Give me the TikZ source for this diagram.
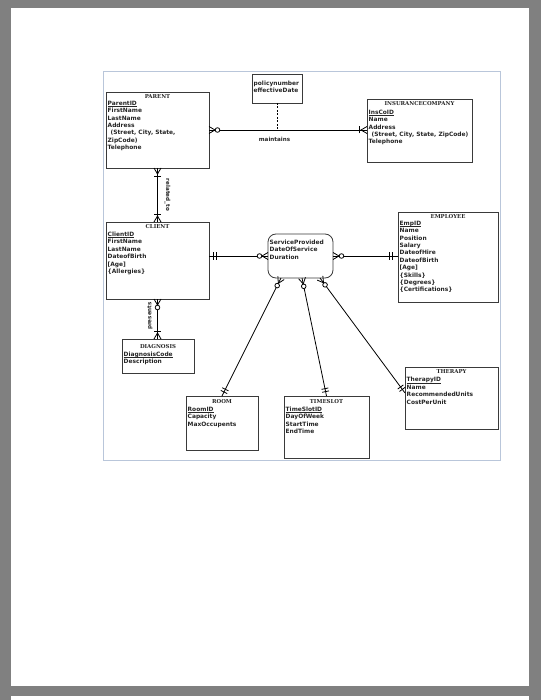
\documentclass[tikz,border=0pt]{standalone}
\usepackage{fontspec}
\newfontfamily\attrfont{DejaVu Sans}
\newfontfamily\titlefont{DejaVu Serif}
\usetikzlibrary{calc}
\definecolor{pagegray}{HTML}{808080}
\definecolor{framec}{HTML}{B9C6DA}
\definecolor{boxc}{HTML}{3A3A3A}
\newcommand{\keyattr}[1]{\setbox0\hbox{#1}\rlap{\vrule height -0.6pt depth 1.1pt width \wd0}#1}
\newcommand{\crowat}[2]{%
  \path ($(#2)!6pt!(#1)$) coordinate (cq);
  \draw[rel] ($(#2)!3.5pt!90:(#1)$) -- (cq) -- ($(#2)!3.5pt!-90:(#1)$);}
\newcommand{\erbar}[3]{%
  \path ($(#2)!#3!(#1)$) coordinate (bq);
  \draw[rel] ($(bq)!3.5pt!90:(#1)$) -- ($(bq)!3.5pt!-90:(#1)$);}
\newcommand{\ercirc}[3]{%
  \path ($(#2)!#3!(#1)$) coordinate (oq);
  \draw[rel,fill=white] (oq) circle[radius=2.3pt];}
\newcommand{\zeromany}[2]{\crowat{#1}{#2}\ercirc{#1}{#2}{8.5pt}}
\newcommand{\onemany}[2]{\crowat{#1}{#2}\erbar{#1}{#2}{8pt}}
\newcommand{\oneone}[2]{\erbar{#1}{#2}{4.5pt}\erbar{#1}{#2}{7.5pt}}
\begin{document}
\begin{tikzpicture}[x=1pt,y=-1pt,
  box/.style={draw=boxc, line width=0.8pt, inner sep=0pt, outer sep=0pt, anchor=north west},
  sz/.style 2 args={minimum width=#1pt, minimum height=#2pt},
  attr/.style={font=\attrfont\bfseries\fontsize{5.9}{7.4}\selectfont, align=left, anchor=north west, inner sep=0pt, text=black!85},
  ttl/.style={font=\titlefont\bfseries\fontsize{5.4}{7}\selectfont, inner sep=0pt, text=black!85},
  lbl/.style={font=\attrfont\bfseries\fontsize{5.6}{7}\selectfont, inner sep=0pt, text=black!85},
  rel/.style={line width=0.8pt, black}]
\useasboundingbox (0,0) rectangle (541,700);
\fill[pagegray] (0,0) rectangle (541,700);
\fill[white] (11.4,8) rectangle (529,686);
\fill[white] (11.4,696) rectangle (529,700);
\draw[framec, line width=0.8pt] (103.5,71) rectangle (500,460);

% entities
\node[box, sz={103}{76}] (PARENT) at (106,92) {};
\node[ttl] (PARENTt) at (157.5,97) {PARENT};
\node[attr] (PARENTa) at (107.5,100.8) {\keyattr{ParentID}\\FirstName\\LastName\\Address\\\hspace{3pt}(Street, City, State,\\ZipCode)\\Telephone};

\node[box, sz={50}{29}] (POL) at (252,74) {};
\node[attr] (POLa) at (253.5,80.8) {policynumber\\effectiveDate};

\node[box, sz={105}{63}] (INS) at (367,99) {};
\node[ttl] (INSt) at (419.5,104) {INSURANCECOMPANY};
\node[attr] (INSa) at (368.5,109.8) {\keyattr{InsCoID}\\Name\\Address\\\hspace{3pt}(Street, City, State, ZipCode)\\Telephone};

\node[box, sz={103}{77}] (CLIENT) at (106,222) {};
\node[ttl] (CLIENTt) at (157.5,227) {CLIENT};
\node[attr] (CLIENTa) at (107.5,231.8) {\keyattr{ClientID}\\FirstName\\LastName\\DateofBirth\\{[Age]}\\\{Allergies\}};

\node[box, sz={65}{44}, rounded corners=8pt] (SP) at (268,234) {};
\node[attr] (SPa) at (269.5,239.8) {ServiceProvided\\DateOfService\\Duration};

\node[box, sz={100}{90}] (EMP) at (398,212) {};
\node[ttl] (EMPt) at (448,216.5) {EMPLOYEE};
\node[attr] (EMPa) at (399.5,220.8) {\keyattr{EmpID}\\Name\\Position\\Salary\\DateofHire\\DateofBirth\\{[Age]}\\\{Skills\}\\\{Degrees\}\\\{Certifications\}};

\node[box, sz={72}{34}] (DIAG) at (122,339) {};
\node[ttl] (DIAGt) at (158,346.5) {DIAGNOSIS};
\node[attr] (DIAGa) at (123.5,351.8) {\keyattr{DiagnosisCode}\\Description};

\node[box, sz={72}{54}] (ROOM) at (186,396) {};
\node[ttl] (ROOMt) at (222,402) {ROOM};
\node[attr] (ROOMa) at (187.5,406.8) {\keyattr{RoomID}\\Capacity\\MaxOccupents};

\node[box, sz={85}{62}] (TIME) at (284,396) {};
\node[ttl] (TIMEt) at (326.5,402) {TIMESLOT};
\node[attr] (TIMEa) at (285.5,406.8) {\keyattr{TimeSlotID}\\DayOfWeek\\StartTime\\EndTime};

\node[box, sz={93}{62}] (THER) at (405,367) {};
\node[ttl] (THERt) at (451.5,372) {THERAPY};
\node[attr] (THERa) at (406.5,377.3) {\keyattr{TherapyID}\\Name\\RecommendedUnits\\CostPerUnit};

% maintains
\coordinate (m1) at (PARENT.east);
\coordinate (m2) at (PARENT.east -| INS.west);
\draw[rel] (m1) -- (m2);
\zeromany{m2}{m1}
\onemany{m1}{m2}
\coordinate (mp) at (POL.south |- m1);
\draw[rel, dash pattern=on 2pt off 1.5pt] (POL.south) -- (mp);
\node[lbl] (maint) at (274.5,139) {maintains};

% related_to
\coordinate (r1) at (PARENT.south);
\coordinate (r2) at (CLIENT.north);
\draw[rel] (r1) -- (r2);
\onemany{r2}{r1}
\onemany{r1}{r2}
\node[lbl, rotate=-90] (relto) at (167.5,195) {related\_to};

% client - service provided
\coordinate (s1) at (SP.west -| CLIENT.east);
\coordinate (s2) at (SP.west);
\draw[rel] (s1) -- (s2);
\oneone{s2}{s1}
\zeromany{s1}{s2}

% service provided - employee
\coordinate (e1) at (SP.east);
\coordinate (e2) at (SP.east -| EMP.west);
\draw[rel] (e1) -- (e2);
\zeromany{e2}{e1}
\erbar{e1}{e2}{6pt}\erbar{e1}{e2}{9pt}

% presents
\coordinate (p1) at (CLIENT.south);
\coordinate (p2) at (CLIENT.south |- DIAG.north);
\draw[rel] (p1) -- (p2);
\zeromany{p2}{p1}
\onemany{p1}{p2}
\node[lbl, rotate=90] (pres) at (150,316) {presents};

% service provided - room / timeslot / therapy
\coordinate (a1) at ($(SP.south west)+(13,0)$);
\coordinate (a2) at (ROOM.north);
\coordinate (b1) at ($(SP.south west)+(34,0)$);
\coordinate (b2) at (TIME.north);
\coordinate (t1) at ($(SP.south west)+(52,0)$);
\coordinate (t2) at ($(THER.north west)+(0,26)$);
\draw[rel] (a1) -- (a2);
\draw[rel] (b1) -- (b2);
\draw[rel] (t1) -- (t2);
\zeromany{a2}{a1}\oneone{a1}{a2}
\zeromany{b2}{b1}\oneone{b1}{b2}
\zeromany{t2}{t1}\oneone{t1}{t2}
\end{tikzpicture}
\end{document}
